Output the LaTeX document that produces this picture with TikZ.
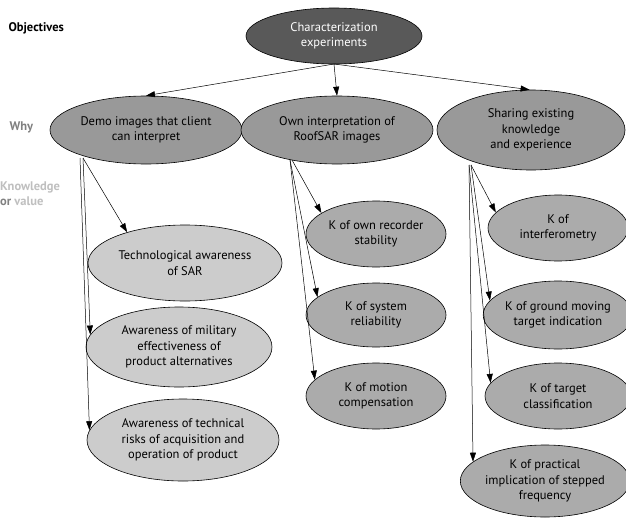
\documentclass[tikz,border=0pt]{standalone}
\usepackage{fontspec}
\setmainfont{PT Sans}
\usetikzlibrary{shapes.geometric,arrows.meta}
\begin{document}
\begin{tikzpicture}[x=1pt,y=-1pt,
 el/.style={ellipse,draw=black,line width=0.6pt,inner sep=0pt,align=center,font=\fontsize{12.5}{15.5}\selectfont},
 top/.style={el,fill=black!65,text=white},
 why/.style={el,fill=black!40},
 kmid/.style={el,fill=black!33},
 kleft/.style={el,fill=black!20},
 arr/.style={-{Triangle[length=9pt,width=6pt]},line width=0.5pt},
 lab/.style={font=\bfseries\fontsize{12.5}{15}\selectfont,anchor=west}]
\useasboundingbox (0,0) rectangle (626,519);
\node[top,minimum width=176pt,minimum height=56pt] (t) at (334,36) {Characterization\\experiments};
\node[why,minimum width=192pt,minimum height=68pt] (w1) at (146,130) {Demo images that client\\can interpret};
\node[why,minimum width=192pt,minimum height=68pt] (w2) at (337,130) {Own interpretation of\\RoofSAR images};
\node[why,minimum width=188pt,minimum height=80pt] (w3) at (531,130) {Sharing existing\\knowledge\\and experience};
\node[kleft,minimum width=194pt,minimum height=76pt] (a1) at (185,263) {Technological awareness\\of SAR};
\node[kleft,minimum width=186pt,minimum height=80pt] (a2) at (179,347) {Awareness of military\\effectiveness of\\product alternatives};
\node[kleft,minimum width=192pt,minimum height=82pt] (a3) at (183,440) {Awareness of technical\\risks of acquisition and\\operation of product};
\node[kmid,minimum width=140pt,minimum height=66pt] (b1) at (376,234) {K of own recorder\\stability};
\node[kmid,minimum width=140pt,minimum height=64pt] (b2) at (376,315) {K of system\\reliability};
\node[kmid,minimum width=140pt,minimum height=66pt] (b3) at (376,396) {K of motion\\compensation};
\node[kmid,minimum width=140pt,minimum height=66pt] (c1) at (558,228) {K of\\interferometry};
\node[kmid,minimum width=146pt,minimum height=68pt] (c2) at (558,315) {K of ground moving\\target indication};
\node[kmid,minimum width=146pt,minimum height=66pt] (c3) at (558,396) {K of target\\classification};
\node[kmid,minimum width=156pt,minimum height=72pt] (c4) at (545,481) {K of practical\\implication of stepped\\frequency};
\node[lab] (l1) at (5,28) {Objectives};
\node[lab,text=black!50] (l2) at (6,127) {Why};
\node[lab,text=black!25,align=left,inner sep=0pt] (l3) at (0,194) {Knowledge\\\textcolor{black!50}{or} value};
\coordinate (ot) at (334,64);
\draw[arr] (ot) -- (w1.90);
\draw[arr] (ot) -- (w2.90);
\draw[arr] (ot) -- (w3.92);
\coordinate (o1) at (80,158); \coordinate (o1b) at (83,158);
\draw[arr] (o1b) -- (a1.152);
\draw[arr] (o1b) -- (a2.172);
\draw[arr] (o1) -- (a3.174);
\coordinate (o2) at (290,160); \coordinate (o2b) at (292,160);
\draw[arr] (o2b) -- (b1.159);
\draw[arr] (o2) -- (b2.163);
\draw[arr] (o2) -- (b3.165);
\coordinate (o3) at (469,165); \coordinate (o3b) at (471,165);
\draw[arr] (o3b) -- (c1.166);
\draw[arr] (o3b) -- (c2.168);
\draw[arr] (o3) -- (c3.169);
\draw[arr] (o3) -- (c4.165);
\end{tikzpicture}
\end{document}
